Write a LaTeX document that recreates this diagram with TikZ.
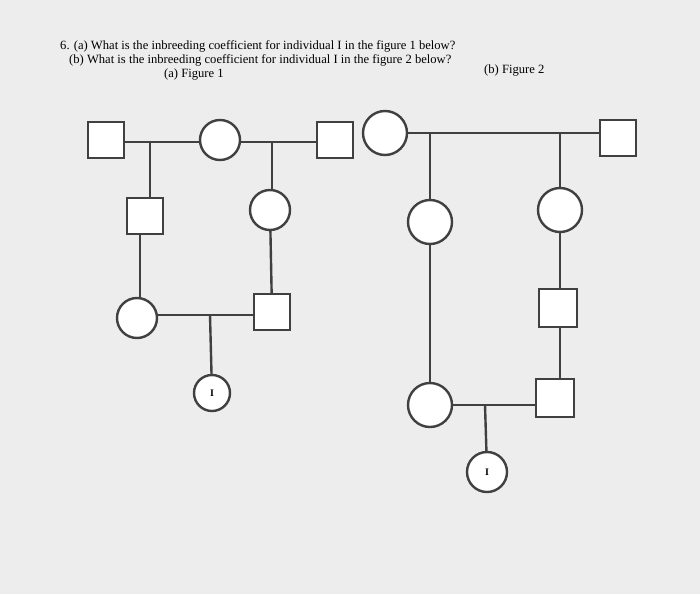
\documentclass[tikz,border=0pt]{standalone}
\usepackage{fontspec}
\setmainfont{Liberation Serif}
\begin{document}
\begin{tikzpicture}[x=1pt,y=-1pt,
  ln/.style={draw=black!75,line width=2.4pt},
  sq/.style={ln,fill=white,minimum size=36pt,inner sep=0pt,shape=rectangle},
  ci/.style={ln,fill=white,minimum size=40pt,inner sep=0pt,shape=circle},
  tx/.style={anchor=west,font=\fontsize{12.6}{13}\selectfont,inner sep=0pt}]
\fill[black!7] (0,0) rectangle (700,594);
\useasboundingbox (0,0) rectangle (700,594);
\node[tx] (t1) at (60,46) {6. (a) What is the inbreeding coefficient for individual I in the figure 1 below?};
\node[tx] (t2) at (69,60) {(b) What is the inbreeding coefficient for individual I in the figure 2 below?};
\node[tx] (t3) at (164,74) {(a) Figure 1};
\node[tx] (t4) at (484,70) {(b) Figure 2};
\coordinate (m1) at (150,142);
\coordinate (m2) at (272,142);
\coordinate (m3) at (210,315);
\coordinate (m4) at (430,133);
\coordinate (m5) at (560,133);
\coordinate (m6) at (485,405);
\draw[ln] (106,142) -- (335,142);
\draw[ln] (385,133) -- (618,133);
\draw[ln] (m1) -- (150,215);
\draw[ln] (m2) -- (272,210);
\draw[ln] (140,215) -- (140,318);
\draw[ln] (270,210) -- (272,312);
\draw[ln] (135,315) -- (272,315);
\draw[ln] (m3) -- (212,393);
\draw[ln] (m4) -- (430,405);
\draw[ln] (m5) -- (560,398);
\draw[ln] (430,405) -- (555,405);
\draw[ln] (m6) -- (487,470);
\node[sq] (A) at (106,140) {};
\node[ci] (B) at (220,140) {};
\node[sq] (C) at (145,216) {};
\node[ci] (E) at (270,210) {};
\node[ci] (F) at (137,318) {};
\node[sq] (G) at (272,312) {};
\node[ci,minimum size=36pt] (I1) at (212,393) {\textbf{I}};
\node[sq] (D) at (335,140) {};
\node[ci,minimum size=44pt] (H) at (385,133) {};
\node[sq] (J) at (618,138) {};
\node[ci,minimum size=44pt] (K) at (430,222) {};
\node[ci,minimum size=44pt] (L) at (560,210) {};
\node[ci,minimum size=44pt] (M) at (430,405) {};
\node[sq,minimum size=38pt] (N) at (558,308) {};
\node[sq,minimum size=38pt] (O) at (555,398) {};
\node[ci] (I2) at (487,472) {\textbf{I}};
\end{tikzpicture}
\end{document}
